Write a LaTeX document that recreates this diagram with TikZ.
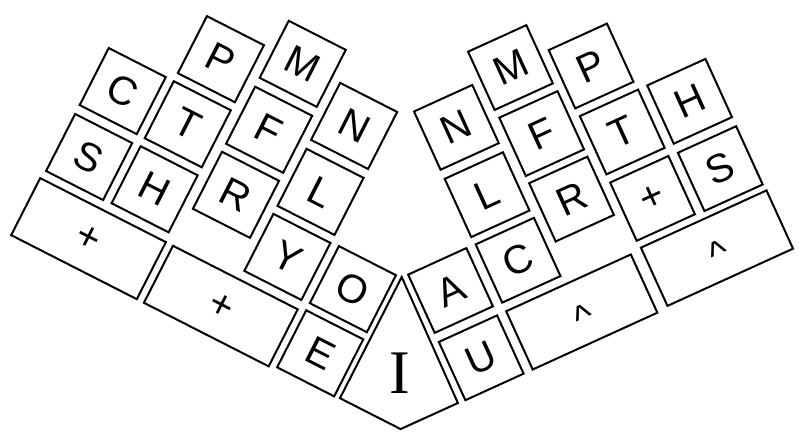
\documentclass[tikz,border=0pt]{standalone}
\usepackage{fontspec}
\setmainfont{Liberation Sans}
\newfontfamily\seriffont{Liberation Serif}
\begin{document}
\begin{tikzpicture}[x=1pt,y=-1pt,
  keyline/.style={line width=2pt, line join=miter},
  key/.style={draw, keyline, minimum width=64pt, minimum height=64pt,
    inner sep=0pt, anchor=north west, transform shape,
    font=\fontsize{40}{40}\selectfont},
  widekey/.style={key, minimum width=#1},
  caret/.style={font=\fontsize{38}{38}\selectfont, transform shape, inner sep=0pt}]
\useasboundingbox (0,0) rectangle (799,437);
% left hand
\begin{scope}[shift={(108.3,46.7)}, rotate=-27]
  \node[key] (lC) at (0,0) {C};
  \node[key] (lS) at (0,74) {S};
  \node[widekey=141pt] (lPa) at (-2,147) {+};
  \node[key] (lP) at (73,-73) {P};
  \node[key] (lT) at (73,0) {T};
  \node[key] (lH) at (73,73) {H};
  \node[key] (lM) at (148,-106) {M};
  \node[key] (lF) at (148,-32) {F};
  \node[key] (lR) at (148,41) {R};
  \node[widekey=140pt] (lPb) at (147,147) {+};
  \node[key] (lN) at (222,-74) {N};
  \node[key] (lL) at (222,0) {L};
  \node[key] (lY) at (222,73) {Y};
  \node[key] (lO) at (295,72) {O};
  \node[key] (lE) at (295,144) {E};
  \coordinate (Itop) at (366,72);
  \coordinate (Ibl) at (366,208);
  \coordinate (Ibot) at (434,208);
\end{scope}
% right hand
\begin{scope}[shift={(412.7,111)}, rotate=24.5]
  \node[key] (rN) at (0,0) {N};
  \node[key] (rL) at (0,74) {L};
  \node[key] (rC) at (1,146.5) {C};
  \node[widekey=137pt] (rCa) at (1,220) {};
  \node[caret] at ([yshift=-6pt]rCa.center) {\textasciicircum};
  \node[key] (rM) at (74,-32) {M};
  \node[key] (rF) at (75,41) {F};
  \node[key] (rR) at (75,113) {R};
  \node[key] (rP) at (148,0) {P};
  \node[key] (rT) at (149,73) {T};
  \node[key] (rPl) at (149,146) {+};
  \node[widekey=138pt] (rCb) at (150,218) {};
  \node[caret] at ([yshift=-6pt]rCb.center) {\textasciicircum};
  \node[key] (rH) at (223,73) {H};
  \node[key] (rS) at (223,147) {S};
  \node[key] (rA) at (-73,146) {A};
  \node[key] (rU) at (-73,220) {U};
  \coordinate (Ibr) at (-80,284.5);
\end{scope}
% I key
\draw[keyline] (Itop) -- (Ibl) -- (Ibot) -- (Ibr) -- cycle;
\node[font=\seriffont\fontsize{62}{62}\selectfont, inner sep=0pt] (Ilab) at (400,373) {I};
\end{tikzpicture}
\end{document}
